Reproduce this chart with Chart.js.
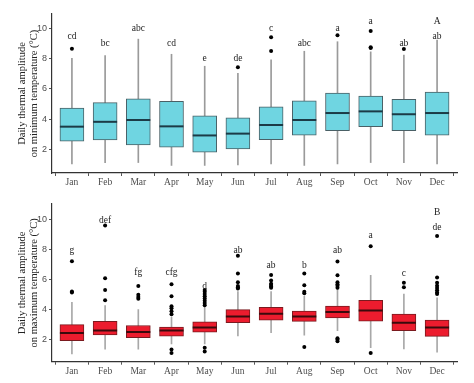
<!DOCTYPE html>
<html><head><meta charset="utf-8">
<script src="https://cdn.jsdelivr.net/npm/chart.js@4.4.1/dist/chart.umd.min.js"></script>
<style>
html,body{margin:0;padding:0;background:#fff;width:474px;height:383px;overflow:hidden;position:relative}
canvas{display:block;position:absolute;left:0}
#c1{top:0}
#c2{top:190px}
</style></head><body>
<canvas id="c1" width="474" height="190"></canvas>
<canvas id="c2" width="474" height="193"></canvas>
<script>
const months = ['Jan','Feb','Mar','Apr','May','Jun','Jul','Aug','Sep','Oct','Nov','Dec'];
const yTicks = [2,4,6,8,10];

// Panel 1: daily thermal amplitude on minimum temperature
const minWhiskerLo = [1.05,1.14,1.14,0.95,0.95,0.99,1.05,0.95,1.05,1.14,1.14,1.05];
const minQ1        = [2.55,2.63,2.31,2.15,1.83,2.04,2.65,2.95,3.24,3.51,3.24,2.95];
const minMedian    = [3.51,3.83,3.95,3.53,2.93,3.05,3.62,3.95,4.41,4.52,4.33,4.41];
const minQ3        = [4.73,5.10,5.34,5.19,4.22,4.10,4.82,5.21,5.72,5.53,5.32,5.80];
const minWhiskerHi = [8.03,8.20,9.29,8.29,7.50,7.04,7.92,8.49,9.12,8.45,8.24,9.23];
const minOutliers  = [[8.66],[],[],[],[],[7.44],[8.51,9.42],[],[9.54],[8.70,8.76,9.83],[8.64],[]];
const minLetters   = ['cd','bc','abc','cd','e','de','c','abc','a','a','ab','ab'];
const minLetterY   = [9.45,8.97,9.96,8.97,7.99,7.99,9.96,8.97,9.96,10.44,8.97,9.45];
const minPanelTag  = 'A';
const minPanelTagY = 10.44;

// Panel 2: daily thermal amplitude on maximum temperature
const maxWhiskerLo = [1.04,1.35,1.35,1.70,1.71,2.25,2.46,2.29,2.60,1.46,1.38,1.15];
const maxQ1        = [1.92,2.31,2.13,2.23,2.50,3.13,3.29,3.21,3.44,3.23,2.60,2.21];
const maxMedian    = [2.43,2.60,2.50,2.60,2.81,3.54,3.73,3.54,3.85,3.94,3.13,2.81];
const maxQ3        = [3.00,3.21,2.94,2.83,3.19,4.00,4.15,3.90,4.23,4.63,3.71,3.31];
const maxWhiskerHi = [4.48,4.27,4.00,3.50,4.17,5.20,5.21,4.90,5.42,6.29,5.04,4.79];
const maxOutliers  = [
  [5.15,5.22,7.23],
  [4.63,5.31,6.10,9.63],
  [4.73,4.85,5.00,5.58],
  [1.10,1.33,3.69,3.90,4.10,4.23,4.90,5.70],
  [1.21,1.46,4.30,4.45,4.60,4.75,4.90,5.05,5.20,5.31],
  [5.42,5.50,5.58,5.83,6.42,7.60],
  [5.46,5.55,5.65,5.73,5.94,6.31],
  [1.50,5.10,5.20,5.63,6.42],
  [1.88,2.00,2.08,5.46,5.60,5.70,5.83,6.29,7.21],
  [1.10,8.23],
  [5.50,5.79],
  [5.04,5.15,5.30,5.45,5.60,5.79,6.15,8.92]
];
const maxLetters   = ['g','def','fg','cfg','d','ab','ab','b','ab','a','c','de'];
const maxLetterY   = [7.92,9.96,6.46,6.46,5.52,7.98,6.98,6.98,7.92,8.96,6.42,9.48];
const maxPanelTag  = 'B';
const maxPanelTagY = 10.48;

function letterPlugin(letters, letterY, tag, tagY) {
  return {
    id: 'letters',
    afterDatasetsDraw(chart) {
      const {ctx, scales: {x, y}} = chart;
      ctx.save();
      ctx.font = '9.5px "Liberation Serif"';
      ctx.fillStyle = '#222';
      ctx.textAlign = 'center';
      ctx.textBaseline = 'middle';
      letters.forEach((t, i) => ctx.fillText(t, x.getPixelForValue(i), y.getPixelForValue(letterY[i])));
      ctx.fillText(tag, x.getPixelForValue(months.length - 1), y.getPixelForValue(tagY));
      ctx.restore();
    }
  };
}

function build(id, d) {
  const datasets = [
    { type: 'bar', order: 5, grouped: false, barThickness: 1,
      data: months.map((m, i) => ({x: i, y: [d.lo[i], d.hi[i]]})),
      backgroundColor: d.whisker, borderWidth: 0 },
    { type: 'bar', order: 4, grouped: false, barThickness: 24,
      data: months.map((m, i) => ({x: i, y: [d.q1[i], d.q3[i]]})),
      backgroundColor: d.fill, borderColor: d.border, borderWidth: 1, borderSkipped: false },
    { type: 'scatter', order: 3, showLine: false,
      data: months.map((m, i) => ({x: i, y: d.med[i]})),
      pointStyle: 'line', pointRadius: 12, pointHoverRadius: 12,
      pointBorderColor: d.median, pointBorderWidth: 2, borderColor: d.median },
    { type: 'scatter', order: 2, showLine: false,
      data: d.out.flatMap((arr, i) => arr.map(v => ({x: i, y: v}))),
      pointRadius: 2, pointHoverRadius: 2, pointBackgroundColor: '#000', pointBorderWidth: 0 }
  ];
  return new Chart(document.getElementById(id), {
    type: 'bar',
    data: { datasets },
    plugins: [letterPlugin(d.letters, d.letterY, d.tag, d.tagY)],
    options: {
      responsive: false, animation: false, devicePixelRatio: 1,
      layout: { padding: { top: d.padTop, right: 17, left: 0, bottom: 0 } },
      plugins: { legend: { display: false }, tooltip: { enabled: false } },
      scales: {
        x: {
          type: 'linear', min: -0.6, max: 11.6, offset: false,
          afterBuildTicks: s => { s.ticks = months.map((m, i) => ({value: i})); },
          afterFit: s => { s.height = d.xH; },
          ticks: { callback: v => months[v], autoSkip: false, maxRotation: 0,
                   font: { family: 'Liberation Serif', size: 9.5 }, color: '#4d4d4d', padding: 1 },
          grid: { display: true, drawOnChartArea: false, drawTicks: true, tickLength: 3, color: '#555' },
          border: { display: true, color: '#333', width: 1.2 }
        },
        y: {
          min: d.yMin, max: d.yMax,
          afterBuildTicks: s => { s.ticks = yTicks.map(v => ({value: v})); },
          afterFit: s => { s.width = 52; },
          ticks: { font: { family: 'Liberation Sans', size: 9 }, color: '#4d4d4d', padding: 2 },
          grid: { display: true, drawOnChartArea: false, drawTicks: true, tickLength: 3, color: '#555' },
          border: { display: true, color: '#333', width: 1.2 },
          title: { display: true, text: d.title, color: '#222',
                   font: { family: 'Liberation Serif', size: 10.5, lineHeight: 1.15 },
                   padding: { top: 16, bottom: 0 } }
        }
      }
    }
  });
}

build('c1', {
  lo: minWhiskerLo, q1: minQ1, med: minMedian, q3: minQ3, hi: minWhiskerHi, out: minOutliers,
  letters: minLetters, letterY: minLetterY, tag: minPanelTag, tagY: minPanelTagY,
  fill: '#6fd5e1', border: '#4a6066', median: '#1c3b46', whisker: '#9a9a9a',
  yMin: 0.45, yMax: 10.95, padTop: 7, xH: 17,
  title: ['Daily thermal amplitude', 'on minimum temperature (°C)']
});
build('c2', {
  lo: maxWhiskerLo, q1: maxQ1, med: maxMedian, q3: maxQ3, hi: maxWhiskerHi, out: maxOutliers,
  letters: maxLetters, letterY: maxLetterY, tag: maxPanelTag, tagY: maxPanelTagY,
  fill: '#ec1c2e', border: '#7a1a1f', median: '#3a0a0c', whisker: '#a8a8a8',
  yMin: 0.52, yMax: 11.06, padTop: 3, xH: 21.3,
  title: ['Daily thermal amplitude', 'on maximum temperature (°C)']
});
</script>
</body></html>
